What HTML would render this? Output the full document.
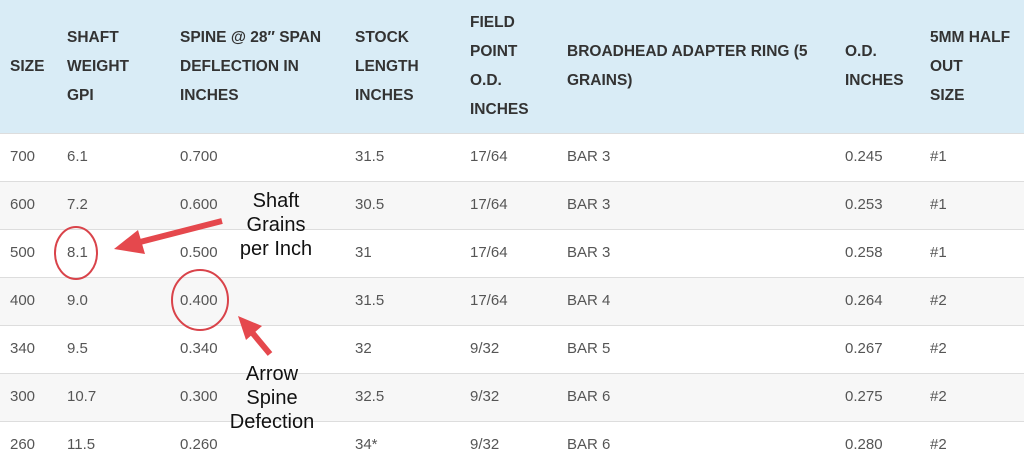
<!DOCTYPE html>
<html><head><style>
body{margin:0;width:1024px;height:469px;overflow:hidden;background:#fff;font-family:"Liberation Sans",sans-serif;position:relative}
.h{position:absolute;left:0;top:0;width:1024px;height:133px;background:#d9ecf6}
.t{position:absolute;color:#555;font-size:15px;white-space:nowrap}
.b{position:absolute;color:#333;font-weight:bold;font-size:15.5px;line-height:29px;white-space:nowrap}
.r{position:absolute;left:0;width:1024px;height:48px;border-top:1px solid #ddd}
.a{position:absolute;color:#111;font-size:20px;line-height:24px;text-align:center;width:120px}
</style></head><body>
<div class="h"></div>
<div class="r" style="top:133px;background:#fff"></div>
<div class="r" style="top:181px;background:#f7f7f7"></div>
<div class="r" style="top:229px;background:#fff"></div>
<div class="r" style="top:277px;background:#f7f7f7"></div>
<div class="r" style="top:325px;background:#fff"></div>
<div class="r" style="top:373px;background:#f7f7f7"></div>
<div class="r" style="top:421px;background:#fff"></div>
<div class="b" style="left:10px;top:52px">SIZE</div>
<div class="b" style="left:67px;top:23px">SHAFT<br>WEIGHT<br>GPI</div>
<div class="b" style="left:180px;top:23px">SPINE @ 28″ SPAN<br>DEFLECTION IN<br>INCHES</div>
<div class="b" style="left:355px;top:23px">STOCK<br>LENGTH<br>INCHES</div>
<div class="b" style="left:470px;top:8px">FIELD<br>POINT<br>O.D.<br>INCHES</div>
<div class="b" style="left:567px;top:37px">BROADHEAD ADAPTER RING (5<br>GRAINS)</div>
<div class="b" style="left:845px;top:37px">O.D.<br>INCHES</div>
<div class="b" style="left:930px;top:23px">5MM HALF<br>OUT<br>SIZE</div>
<div id="rows"></div>
<script>
var d=[["700","6.1","0.700","31.5","17/64","BAR 3","0.245","#1"],["600","7.2","0.600","30.5","17/64","BAR 3","0.253","#1"],["500","8.1","0.500","31","17/64","BAR 3","0.258","#1"],["400","9.0","0.400","31.5","17/64","BAR 4","0.264","#2"],["340","9.5","0.340","32","9/32","BAR 5","0.267","#2"],["300","10.7","0.300","32.5","9/32","BAR 6","0.275","#2"],["260","11.5","0.260","34*","9/32","BAR 6","0.280","#2"]];
var xs=[10,67,180,355,470,567,845,930],h="";
d.forEach(function(r,i){r.forEach(function(c,j){h+='<div class="t" style="left:'+xs[j]+'px;top:'+(148+i*48)+'px">'+c+'</div>'})});
document.getElementById("rows").innerHTML=h;
</script>
<svg style="position:absolute;left:0;top:0" width="1024" height="469">
<ellipse cx="76" cy="253" rx="21" ry="26" fill="none" stroke="#d9434a" stroke-width="2"/>
<ellipse cx="200" cy="300" rx="28" ry="30" fill="none" stroke="#d9434a" stroke-width="2"/>
<line x1="222" y1="221" x2="140" y2="242" stroke="#e5484d" stroke-width="6"/>
<polygon points="114,249 138,230 145,254" fill="#e5484d"/>
<line x1="270" y1="354" x2="250" y2="330" stroke="#e5484d" stroke-width="6"/>
<polygon points="238,316 262,326 246,340" fill="#e5484d"/>
</svg>
<div class="a" style="left:216px;top:189px">Shaft<br>Grains<br>per Inch</div>
<div class="a" style="left:212px;top:362px">Arrow<br>Spine<br>Defection</div>
</body></html>
